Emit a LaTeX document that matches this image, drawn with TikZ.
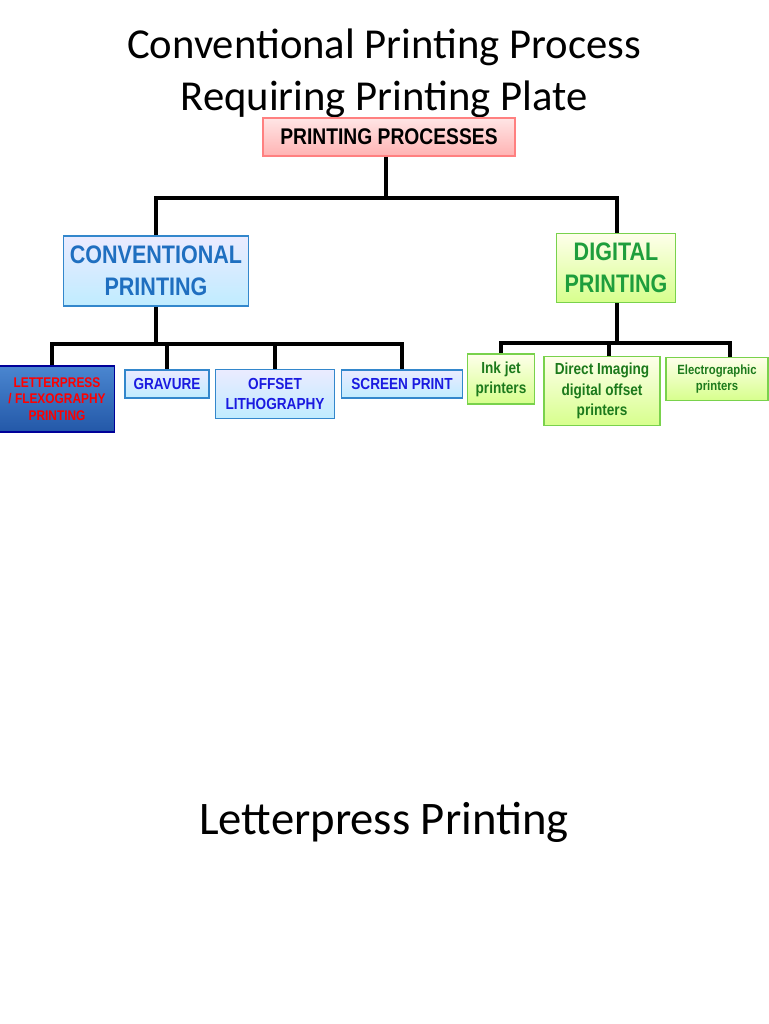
\documentclass[tikz,border=0pt]{standalone}
\usepackage{fontspec}
\setmainfont{Carlito}
\newfontfamily\boxfont[FakeStretch=0.85]{Liberation Sans}
\definecolor{bluetxt}{HTML}{1F6FC0}
\definecolor{greentxt}{HTML}{1E9E3C}
\definecolor{smallblue}{HTML}{1A1AE0}
\definecolor{smallgreen}{HTML}{1C7A1C}
\definecolor{lptop}{HTML}{4A86D0}
\definecolor{lpbot}{HTML}{2358A8}
\tikzset{
  bx/.style={draw, line width=0.8pt, align=center, inner sep=2pt, font=\boxfont\bfseries},
  bluebox/.style={bx, draw=blue!45!cyan!60!gray, top color=blue!8, bottom color=blue!30!cyan!25, text=smallblue},
  greenbox/.style={bx, draw=green!50!olive!70, top color=green!5!yellow!8, bottom color=green!35!yellow!45, text=smallgreen},
  redbox/.style={bx, draw=red!50, top color=red!10, bottom color=red!30, text=black},
  darkbox/.style={bx, draw=blue!60!black, top color=lptop, bottom color=lpbot, text=red},
  conn/.style={line width=3pt, black},
}
\begin{document}
\begin{tikzpicture}[x=0.75pt,y=-0.75pt]
\useasboundingbox (0,0) rectangle (768,1024);
\node[font=\fontsize{32}{39}\selectfont, align=center] (title) at (384,73) {Conventional Printing Process\\Requiring Printing Plate};
\node[font=\fontsize{35}{40}\selectfont] (lp) at (384,822) {Letterpress Printing};

\node[redbox, minimum width=252*0.75pt, minimum height=38*0.75pt, font=\boxfont\bfseries\fontsize{17}{19}\selectfont] (pp) at (389,137) {PRINTING PROCESSES};
\node[bluebox, text=bluetxt, minimum width=185*0.75pt, minimum height=70*0.75pt, font=\boxfont\bfseries\fontsize{19}{24}\selectfont] (conv) at (156,271) {CONVENTIONAL\\PRINTING};
\node[greenbox, text=greentxt, minimum width=119*0.75pt, minimum height=69*0.75pt, font=\boxfont\bfseries\fontsize{19}{24}\selectfont] (dig) at (616,268) {DIGITAL\\PRINTING};

\node[darkbox, minimum width=115*0.75pt, minimum height=66*0.75pt, font=\boxfont\bfseries\fontsize{10.5}{12.5}\selectfont] (letter) at (57,399) {LETTERPRESS\\/ FLEXOGRAPHY\\PRINTING};
\node[bluebox, minimum width=84*0.75pt, minimum height=28*0.75pt, font=\boxfont\bfseries\fontsize{12}{15}\selectfont] (grav) at (167,384) {GRAVURE};
\node[bluebox, minimum width=119*0.75pt, minimum height=49*0.75pt, font=\boxfont\bfseries\fontsize{12}{15}\selectfont] (off) at (275,394) {OFFSET\\LITHOGRAPHY};
\node[bluebox, minimum width=121*0.75pt, minimum height=28*0.75pt, font=\boxfont\bfseries\fontsize{12}{15}\selectfont] (scr) at (402,384) {SCREEN PRINT};

\node[greenbox, minimum width=67*0.75pt, minimum height=50*0.75pt, font=\boxfont\bfseries\fontsize{12}{15}\selectfont] (ink) at (501,379) {Ink jet\\printers};
\node[greenbox, minimum width=116*0.75pt, minimum height=69*0.75pt, font=\boxfont\bfseries\fontsize{12}{15.5}\selectfont] (dir) at (602,391) {Direct Imaging\\digital offset\\printers};
\node[greenbox, minimum width=102*0.75pt, minimum height=43*0.75pt, font=\boxfont\bfseries\fontsize{10}{12.5}\selectfont] (ele) at (717,379) {Electrographic\\printers};

\coordinate (b1) at (386,198);
\coordinate (b2) at (156,344);
\coordinate (b3) at (617,343);
\draw[conn] (pp.south -| b1) -- (b1);
\draw[conn] (b1) -| (conv.north);
\draw[conn] (b1) -| (dig.north -| b3);
\draw[conn] (conv.south) -- (b2);
\draw[conn] (b2) -| ([xshift=-5*0.75pt]letter.north);
\draw[conn] (b2) -| (grav.north);
\draw[conn] (b2) -| (off.north);
\draw[conn] (b2) -| (scr.north);
\draw[conn] (dig.south -| b3) -- (b3);
\draw[conn] (b3) -| (ink.north);
\draw[conn] (b3) -| ([xshift=7*0.75pt]dir.north);
\draw[conn] (b3) -| ([xshift=13*0.75pt]ele.north);
\end{tikzpicture}
\end{document}
